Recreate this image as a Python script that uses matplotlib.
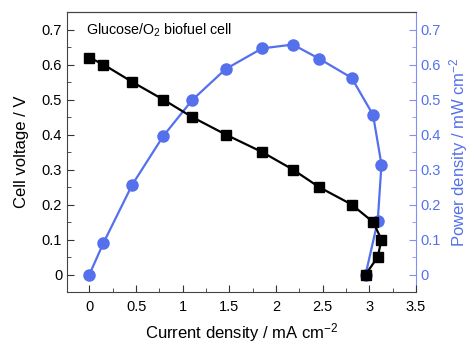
import matplotlib
matplotlib.use("Agg")
import matplotlib.pyplot as plt
from matplotlib.ticker import MultipleLocator

plt.rcParams['font.family'] = ['Liberation Sans', 'DejaVu Sans']
plt.rcParams['mathtext.default'] = 'regular'

# polarization data of the glucose/O2 cell
current = [0, 0.15, 0.46, 0.79, 1.10, 1.46, 1.85, 2.18, 2.46, 2.81, 3.04, 3.13, 3.09, 2.96]
voltage = [0.62, 0.60, 0.55, 0.50, 0.45, 0.40, 0.35, 0.30, 0.25, 0.20, 0.15, 0.10, 0.05, 0.0]
power = [0, 0.09, 0.257, 0.395, 0.498, 0.587, 0.646, 0.657, 0.617, 0.562, 0.456, 0.314, 0.153, 0]

blue = '#5470EC'
blue_axis = '#8090EE'

fig = plt.figure(figsize=(4.74, 3.45), dpi=100)
ax = fig.add_axes([0.1414, 0.1536, 0.7362, 0.8116])
ax2 = ax.twinx()

ax2.plot(current, power, '-o', color=blue, lw=1.6, ms=8, zorder=1)
ax.plot(current, voltage, '-s', color='black', lw=1.6, ms=7.5, zorder=3)
ax.set_zorder(ax2.get_zorder() + 1)
ax.patch.set_visible(False)

ax.set_xlim(-0.24, 3.5)
ax.set_ylim(-0.05, 0.75)
ax2.set_ylim(-0.05, 0.75)

ax.xaxis.set_major_locator(MultipleLocator(0.5))
ax.xaxis.set_minor_locator(MultipleLocator(0.25))
for a in (ax, ax2):
    a.yaxis.set_major_locator(MultipleLocator(0.1))
    a.yaxis.set_minor_locator(MultipleLocator(0.05))

fmt = lambda v, p: '0' if abs(v) < 1e-9 else f'{v:g}'
ax.xaxis.set_major_formatter(fmt)
ax.yaxis.set_major_formatter(fmt)
ax2.yaxis.set_major_formatter(fmt)

ax.tick_params(axis='both', which='both', direction='in', top=False, right=False,
               labelsize=10.5, color='#333333')
ax.tick_params(which='major', length=5)
ax.tick_params(which='minor', length=3)
ax.tick_params(axis='x', pad=6)
ax2.tick_params(axis='y', which='both', direction='in', colors=blue_axis,
                labelcolor=blue, labelsize=10.5)
ax2.tick_params(which='major', length=5)
ax2.tick_params(which='minor', length=3)

ax.spines['right'].set_visible(False)
ax2.spines['right'].set_color(blue_axis)
ax2.spines['left'].set_visible(False)
for s in ('top', 'bottom', 'left'):
    ax.spines[s].set_color('#444444')
ax2.spines['top'].set_color('#444444')
ax2.spines['bottom'].set_visible(False)

ax.set_xlabel('Current density / mA cm$^{-2}$', fontsize=12, labelpad=5)
ax.set_ylabel('Cell voltage / V', fontsize=12, labelpad=9)
ax2.set_ylabel('Power density / mW cm$^{-2}$', fontsize=12, color=blue, labelpad=4)

ax.text(0.053, 0.965, 'Glucose/O$_2$ biofuel cell', transform=ax.transAxes,
        fontsize=10.3, va='top', ha='left')

fig.savefig('out.png', dpi=100)
